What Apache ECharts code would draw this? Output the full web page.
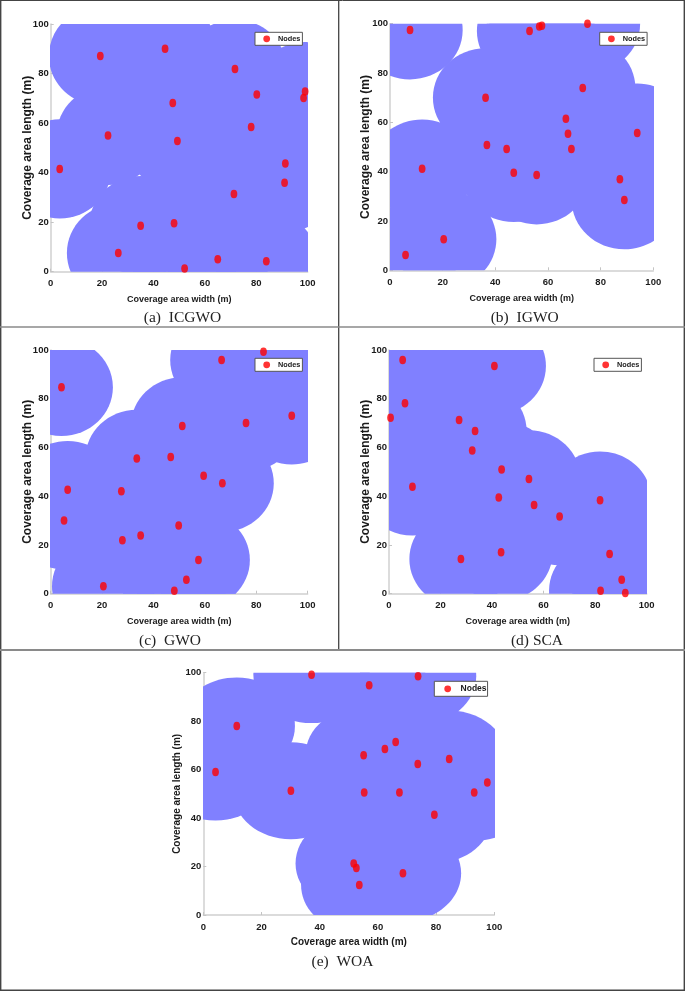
<!DOCTYPE html>
<html><head><meta charset="utf-8">
<style>html,body{margin:0;padding:0;background:#fff}#c{width:685px;height:991px}</style>
<script src="https://cdn.jsdelivr.net/npm/echarts@6/dist/echarts.min.js"></script>
</head><body><div id="c"></div>
<script>
const seriesName = 'Nodes';
const xTitle = 'Coverage area width (m)';
const yTitle = 'Coverage area length (m)';
const coverageRadius = 20;
const icgwoNodes = [[19.3,87.1],[44.5,90],[71.7,81.8],[80.2,71.5],[99,72.7],[98.4,70.1],[47.5,68.1],[78,58.4],[22.3,55],[49.3,52.8],[91.3,43.7],[91,35.9],[3.5,41.5],[71.3,31.4],[48,19.6],[35,18.6],[26.3,7.5],[65,5],[83.9,4.2],[52.1,1.3]];
const igwoNodes = [[7.6,97.4],[53,97],[56.7,98.9],[57.7,99.2],[75,100],[73.2,73.9],[36.3,70],[66.8,61.5],[67.6,55.4],[93.9,55.7],[36.8,50.8],[44.3,49.2],[68.9,49.2],[12.2,41.2],[47,39.6],[55.7,38.6],[87.3,36.9],[89,28.5],[20.4,12.6],[5.9,6.2]];
const gwoNodes = [[82.8,99.3],[66.5,95.9],[4.2,84.7],[93.8,73],[76,70],[51.2,68.8],[33.5,55.5],[46.7,56.1],[59.5,48.4],[66.8,45.3],[6.6,42.7],[27.5,42],[5.2,30],[49.8,28],[35,23.9],[27.9,21.9],[57.5,13.8],[52.8,5.7],[20.5,3.1],[48.1,1.2]];
const scaNodes = [[5.3,95.9],[40.9,93.4],[6.2,78.2],[0.6,72.2],[27.2,71.3],[33.4,66.8],[32.3,58.8],[43.7,51],[54.3,47.1],[9.1,43.9],[42.6,39.5],[56.3,36.4],[66.2,31.7],[81.9,38.3],[43.5,17],[27.9,14.2],[85.6,16.3],[90.3,5.7],[82.1,1.2],[91.7,0.3]];
const woaNodes = [[37.2,99.2],[73.8,98.5],[57,94.8],[11.5,78],[66.1,71.4],[62.4,68.5],[55.1,65.9],[73.7,62.3],[84.5,64.4],[4.2,59],[30.1,51.3],[55.3,50.6],[67.4,50.6],[93.1,50.6],[97.6,54.7],[79.4,41.4],[51.7,21.3],[52.6,19.4],[68.6,17.2],[53.6,12.4]];

const panels = [
 {cap:'(a)  ICGWO', nodes:icgwoNodes, l:50.7,r:307.7,t:24,b:271.7, lg:[255,32.3], capX:182.5, capY:318, yFs:12, xFs:9, yGap:16.7, xGap:23.8},
 {cap:'(b)  IGWO',  nodes:igwoNodes,  l:390,r:653.3,t:23.7,b:270.3, lg:[599.7,32.3], capX:524.7, capY:318, yFs:12, xFs:9, yGap:18, xGap:23.5},
 {cap:'(c)  GWO',   nodes:gwoNodes,   l:50.7,r:307.7,t:350,b:593.7, lg:[255,358.3], capX:170, capY:640.7, yFs:12, xFs:9, yGap:16.7, xGap:23.8},
 {cap:'(d) SCA',    nodes:scaNodes,   l:389,r:646.7,t:350,b:593.7, lg:[594,358.3], capX:537, capY:640.7, yFs:12, xFs:9, yGap:17.3, xGap:23.8},
 {cap:'(e)  WOA',   nodes:woaNodes,   l:203.3,r:494.3,t:672.7,b:915, lg:[434.3,681.3], capX:342.5, capY:962.3, yFs:10, xFs:10, yGap:21.3, xGap:22.7},
];
const LABEL = '"Liberation Sans",sans-serif';
const MARK = 'path://M0,-1A1,1 0 1 1 0,1A1,1 0 1 1 0,-1Z';
const W=685,H=991;
const option = {animation:false, backgroundColor:'#fff', grid:[], xAxis:[], yAxis:[], series:[], legend:[], graphic:[]};
const axisCommon = {type:'value',min:0,max:100,interval:20,splitLine:{show:false},
  axisLine:{show:true,onZero:false,lineStyle:{color:'#d0d0d0',width:1.5}},
  axisTick:{show:true,inside:true,length:3,lineStyle:{color:'#c4c4c4'}},
  axisLabel:{fontFamily:LABEL,fontWeight:'bold',fontSize:9.5,color:'#1a1a1a',showMinLabel:true,showMaxLabel:true},
  nameLocation:'middle',nameMoveOverlap:false};
const nameStyle = fs => ({fontFamily:LABEL,fontWeight:'bold',fontSize:fs,color:'#1a1a1a'});
panels.forEach((p,i)=>{
  option.grid.push({left:p.l,top:p.t,width:p.r-p.l,height:p.b-p.t,containLabel:false});
  option.xAxis.push({...axisCommon,gridIndex:i,name:xTitle,nameGap:p.xGap,nameTextStyle:nameStyle(p.xFs),
     axisLabel:{...axisCommon.axisLabel,margin:7}});
  option.yAxis.push({...axisCommon,gridIndex:i,name:yTitle,nameGap:p.yGap,nameTextStyle:nameStyle(p.yFs),
     axisLabel:{...axisCommon.axisLabel,margin:2}});
  option.series.push({type:'custom',name:'coverage'+i,xAxisIndex:i,yAxisIndex:i,clip:true,silent:true,z:3,
    data:p.nodes,encode:{x:0,y:1},
    renderItem:(params,api)=>{
      const c=api.coord([api.value(0),api.value(1)]);
      const s=api.size([coverageRadius,coverageRadius]);
      return {type:'ellipse',shape:{cx:c[0],cy:c[1],rx:s[0],ry:s[1]},style:{fill:'#8080ff',stroke:null}};
    }});
  option.series.push({type:'scatter',name:seriesName,xAxisIndex:i,yAxisIndex:i,clip:false,z:5,
    data:p.nodes,symbol:MARK,symbolSize:[6.8,8.5],symbolKeepAspect:false,itemStyle:{color:'#ff0000'}});
  const wide = i===4;
  option.legend.push({show:true,left:p.lg[0],top:p.lg[1],data:[{name:seriesName,icon:MARK}],itemWidth:6.8,itemHeight:8.5,itemGap:0,
    selectedMode:false,orient:'horizontal',backgroundColor:'#fff',borderColor:'#555',borderWidth:1,borderRadius:0,
    padding:[3,wide?1:2,3,wide?10:8.3],z:10,
    textStyle:{fontFamily:LABEL,fontWeight:'bold',fontSize:wide?8.5:7.3,color:'#1a1a1a',padding:[0,0,0,wide?4.5:3]}});
  option.graphic.push({type:'text',z:20,x:p.capX,y:p.capY,style:{text:p.cap,fill:'#222',
     font:'15.5px "Liberation Serif",serif',textAlign:'center',textVerticalAlign:'middle'}});
});
[[0,0.5,685,0.5,'#444',1],[0.7,0,0.7,991,'#444',1.4],[684.3,0,684.3,991,'#444',1.4],[338.7,0,338.7,650,'#444',1.3],
 [0,327,685,327,'#8a8a8a',1.6],[0,650,685,650,'#8a8a8a',2],[0,990.2,685,990.2,'#444',1.6]]
 .forEach(s=>option.graphic.push({type:'line',z:20,silent:true,shape:{x1:s[0],y1:s[1],x2:s[2],y2:s[3]},style:{stroke:s[4],lineWidth:s[5]}}));
const chart=echarts.init(document.getElementById('c'),null,{renderer:'canvas',width:W,height:H});
chart.setOption(option);
</script></body></html>
